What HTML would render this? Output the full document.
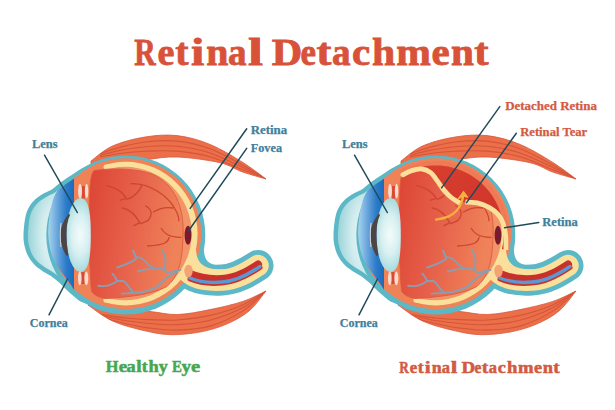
<!DOCTYPE html>
<html><head><meta charset="utf-8">
<style>
html,body{margin:0;padding:0;background:#fff;width:615px;height:410px;overflow:hidden}
svg{display:block}
text{font-family:"Liberation Serif",serif;font-weight:bold}
</style></head><body>
<svg width="615" height="410" viewBox="0 0 615 410">
<defs>
  <linearGradient id="vit" x1="0" y1="0" x2="1" y2="0.25">
    <stop offset="0" stop-color="#dc4434"/>
    <stop offset="0.5" stop-color="#e6604a"/>
    <stop offset="1" stop-color="#ef8259"/>
  </linearGradient>
  <radialGradient id="corn" gradientUnits="userSpaceOnUse" cx="54" cy="236" r="28" gradientTransform="translate(54 236) scale(1 2.5) translate(-54 -236)">
    <stop offset="0" stop-color="#eaf7f7"/>
    <stop offset="0.45" stop-color="#d2ecee"/>
    <stop offset="0.8" stop-color="#aadbdf"/>
    <stop offset="1" stop-color="#8fd0d6"/>
  </radialGradient>
  <linearGradient id="iris" gradientUnits="userSpaceOnUse" x1="48" y1="0" x2="74" y2="0">
    <stop offset="0" stop-color="#a9d5ec"/>
    <stop offset="0.35" stop-color="#6aa6dc"/>
    <stop offset="0.7" stop-color="#2c7bc8"/>
    <stop offset="1" stop-color="#1a6bbd"/>
  </linearGradient>
  <radialGradient id="lensg" gradientUnits="userSpaceOnUse" cx="80" cy="235" r="17" gradientTransform="translate(80 235) scale(1 2.3) translate(-80 -235)">
    <stop offset="0" stop-color="#f4fbfb"/>
    <stop offset="0.5" stop-color="#d8f0f1"/>
    <stop offset="1" stop-color="#a2d8dc"/>
  </radialGradient>
  <linearGradient id="drk" x1="0" y1="0" x2="1" y2="1">
    <stop offset="0" stop-color="#d8412f"/>
    <stop offset="1" stop-color="#cd3029"/>
  </linearGradient>
  <clipPath id="umc"><path d="M91.0 161.0 C94.6 158.5 103.5 150.0 112.5 146.0 C121.5 142.0 134.2 138.7 145.0 137.0 C155.8 135.3 166.2 134.4 177.0 135.6 C187.8 136.8 199.1 139.9 210.0 144.4 C220.9 148.9 233.3 156.5 242.6 162.3 C251.9 168.1 262.1 176.2 266.0 179.0 L266 179 C262.1 177.8 250.3 174.7 242.6 172.0 C234.9 169.3 230.9 165.2 220.0 162.7 C209.1 160.2 189.5 157.4 177.0 157.0 C164.5 156.6 155.8 158.5 145.0 160.0 C134.2 161.5 121.5 164.3 112.5 166.0 C103.5 167.7 94.6 169.3 91.0 170.0 Z"/></clipPath>
  <clipPath id="lmc"><path d="M88.0 305.0 C93.3 305.7 109.7 307.9 120.0 309.0 C130.3 310.1 140.4 310.6 150.0 311.5 C159.6 312.4 167.6 314.8 177.6 314.5 C187.6 314.2 199.2 311.8 210.0 309.6 C220.8 307.4 233.3 304.6 242.6 301.5 C251.9 298.4 262.1 292.8 266.0 291.0 L266 291 C263.2 294.3 255.7 305.4 249.0 311.0 C242.3 316.6 234.2 320.8 226.0 324.3 C217.8 327.8 209.2 330.3 200.0 332.0 C190.8 333.7 180.2 334.9 171.0 334.7 C161.8 334.5 154.8 333.1 145.0 330.8 C135.2 328.5 122.0 325.3 112.5 321.0 C103.0 316.7 92.1 307.7 88.0 305.0 Z"/></clipPath>
  <clipPath id="orc"><circle cx="125.7" cy="233.7" r="75.5"/></clipPath>

<g id="eye">
  <path d="M91.0 161.0 C94.6 158.5 103.5 150.0 112.5 146.0 C121.5 142.0 134.2 138.7 145.0 137.0 C155.8 135.3 166.2 134.4 177.0 135.6 C187.8 136.8 199.1 139.9 210.0 144.4 C220.9 148.9 233.3 156.5 242.6 162.3 C251.9 168.1 262.1 176.2 266.0 179.0 L266 179 C262.1 177.8 250.3 174.7 242.6 172.0 C234.9 169.3 230.9 165.2 220.0 162.7 C209.1 160.2 189.5 157.4 177.0 157.0 C164.5 156.6 155.8 158.5 145.0 160.0 C134.2 161.5 121.5 164.3 112.5 166.0 C103.5 167.7 94.6 169.3 91.0 170.0 Z" fill="#eb6f49" stroke="#da583c" stroke-width="0.8"/>
  <g fill="none" stroke="#d6553a" stroke-width="1.1" clip-path="url(#umc)"><path d="M100.0 153.8 C103.3 152.7 112.5 149.2 120.0 147.2 C127.5 145.3 135.5 143.1 145.0 142.0 C154.5 141.0 166.2 140.0 177.0 141.1 C187.8 142.2 199.1 144.8 210.0 148.8 C220.9 152.8 233.3 159.9 242.6 164.9 C251.9 170.0 262.1 176.7 266.0 179.0"/><path d="M100.0 155.4 C103.3 154.6 112.5 151.8 120.0 150.4 C127.5 149.0 135.5 147.4 145.0 146.7 C154.5 146.0 166.2 145.2 177.0 146.2 C187.8 147.2 199.1 149.4 210.0 152.9 C220.9 156.4 233.3 163.0 242.6 167.3 C251.9 171.7 262.1 177.1 266.0 179.0"/><path d="M100.0 156.9 C103.3 156.4 112.5 154.4 120.0 153.5 C127.5 152.5 135.5 151.6 145.0 151.2 C154.5 150.8 166.2 150.2 177.0 151.1 C187.8 152.0 199.1 153.7 210.0 156.8 C220.9 159.9 233.3 166.0 242.6 169.7 C251.9 173.4 262.1 177.4 266.0 179.0"/></g>
  <path d="M88.0 305.0 C93.3 305.7 109.7 307.9 120.0 309.0 C130.3 310.1 140.4 310.6 150.0 311.5 C159.6 312.4 167.6 314.8 177.6 314.5 C187.6 314.2 199.2 311.8 210.0 309.6 C220.8 307.4 233.3 304.6 242.6 301.5 C251.9 298.4 262.1 292.8 266.0 291.0 L266 291 C263.2 294.3 255.7 305.4 249.0 311.0 C242.3 316.6 234.2 320.8 226.0 324.3 C217.8 327.8 209.2 330.3 200.0 332.0 C190.8 333.7 180.2 334.9 171.0 334.7 C161.8 334.5 154.8 333.1 145.0 330.8 C135.2 328.5 122.0 325.3 112.5 321.0 C103.0 316.7 92.1 307.7 88.0 305.0 Z" fill="#eb6f49" stroke="#da583c" stroke-width="0.8"/>
  <g fill="none" stroke="#d6553a" stroke-width="1.1" clip-path="url(#lmc)"><path d="M100.0 314.3 C104.2 315.0 116.7 317.1 125.0 318.0 C133.3 318.8 141.2 319.3 150.0 319.6 C158.8 319.9 167.6 320.7 177.6 320.0 C187.6 319.3 199.2 317.9 210.0 315.4 C220.8 312.9 233.3 308.9 242.6 304.9 C251.9 300.8 262.1 293.3 266.0 291.0"/><path d="M100.0 315.5 C104.2 316.3 116.7 319.2 125.0 320.5 C133.3 321.8 141.2 322.8 150.0 323.5 C158.8 324.2 167.6 325.1 177.6 324.6 C187.6 324.1 199.2 323.1 210.0 320.3 C220.8 317.5 233.3 312.6 242.6 307.8 C251.9 302.9 262.1 293.8 266.0 291.0"/><path d="M100.0 316.9 C104.2 318.0 116.7 321.6 125.0 323.5 C133.3 325.3 141.2 327.0 150.0 328.1 C158.8 329.2 167.6 330.4 177.6 330.1 C187.6 329.7 199.2 329.2 210.0 326.1 C220.8 322.9 233.3 317.0 242.6 311.1 C251.9 305.3 262.1 294.4 266.0 291.0"/></g>
  <!-- cornea -->
  <path d="M104.0 159.0 C100.8 160.3 90.5 164.0 85.0 166.7 C79.5 169.4 75.3 172.6 71.3 175.2 C67.3 177.8 64.2 179.7 61.1 182.0 C58.0 184.3 55.5 187.0 52.6 188.9 C49.8 190.8 46.9 191.5 44.0 193.2 C41.1 194.9 38.0 196.7 35.5 199.1 C33.0 201.5 30.4 204.5 28.7 207.7 C27.0 210.8 26.1 213.4 25.2 218.0 C24.3 222.6 23.6 230.5 23.5 235.0 C23.4 239.5 23.7 241.8 24.4 245.2 C25.1 248.6 26.2 252.4 27.8 255.5 C29.4 258.6 31.4 261.4 33.8 264.0 C36.2 266.6 39.4 268.9 42.3 270.9 C45.1 272.9 48.0 274.0 50.9 276.0 C53.8 278.0 56.5 280.2 59.4 282.8 C62.2 285.4 64.9 288.5 68.0 291.3 C71.1 294.1 75.4 297.9 78.2 299.9 C81.0 301.9 80.7 301.4 85.0 303.3 C89.3 305.2 100.8 309.7 104.0 311.0 L110 311 L110 159 Z" fill="#5cb8c6"/>
  <path d="M87.3 170.4 C85.0 171.8 77.6 176.4 73.7 178.9 C69.7 181.4 66.8 183.3 63.7 185.5 C60.6 187.8 57.9 190.7 55.0 192.6 C52.1 194.5 49.0 195.4 46.3 197.0 C43.5 198.6 40.8 200.2 38.5 202.3 C36.2 204.4 34.1 207.1 32.6 209.8 C31.1 212.6 30.3 214.6 29.5 218.8 C28.7 223.0 28.0 230.9 27.9 235.1 C27.8 239.4 28.1 241.2 28.7 244.3 C29.3 247.4 30.4 250.8 31.7 253.5 C33.1 256.3 34.8 258.7 37.0 261.0 C39.2 263.3 42.1 265.4 44.8 267.3 C47.6 269.2 50.5 270.4 53.4 272.4 C56.3 274.4 59.4 276.9 62.3 279.5 C65.3 282.1 67.9 285.2 71.0 288.0 C74.0 290.8 78.1 294.4 80.7 296.3 C83.4 298.2 85.9 298.9 87.0 299.4 L100 299.4 L100 170.4 Z" fill="url(#corn)"/>
  <!-- teal -->
  <path d="M177 254 C186 279 202 281 222 280 C236 279.5 248 272 258 265.5" fill="none" stroke="#5cb8c6" stroke-width="31" stroke-linecap="round"/>
  <circle cx="125.8" cy="235" r="79.5" fill="#5cb8c6"/>
  <path d="M195 250 L203.9 250 C204.5 260 208 265.5 222 265.5 L222 276 L195 276 Z" fill="#5cb8c6"/>
  <circle cx="125.7" cy="233.7" r="75.5" fill="#f08258"/>
  <path d="M177 254 C186 279 202 281 222 280 C236 279.5 248 272 258 265.5" fill="none" stroke="#fbe09c" stroke-width="21.5" stroke-linecap="round"/>
  <circle cx="125.8" cy="233.65" r="71.8" fill="#fbe09c"/>
  <path d="M190 250 L196 250 C197 263 203 269.5 222 269.5 L222 278 L190 278 Z" fill="#fbe09c"/>
  <circle cx="125" cy="233.55" r="66.7" fill="#f29468"/>
  <!-- ciliary overlay -->
  <path d="M40 150 L106 150 L106 320 L40 320 Z" fill="#f08258" clip-path="url(#orc)"/>
  <circle cx="106" cy="167.1" r="2.5" fill="#fbe09c"/>
  <circle cx="106" cy="300.1" r="2.6" fill="#fbe09c"/>
  <!-- interior -->
  <path d="M94 170.5 C110 168 135 168 152 174 C175 184 184.5 208 183 236 C182.5 262 178 278 166 287 C150 295 125 297.5 105 298.5 C98 297 94 295 91.5 291 C89 265 88.5 215 89.5 195 C90 182 91 174 94 170.5 Z" fill="url(#vit)" stroke="#dc5a40" stroke-width="0.9"/>
  <g fill="none" stroke="#cc4632" stroke-width="1.3" stroke-linecap="round">
    <path d="M106.7 185.6 C115 187 123 192 126.2 198.3 L120.4 200.2"/>
    <path d="M131 183.7 C150 183 168 196 175 209 C178 214 179 218 178.9 220.7"/>
    <path d="M141.8 185.6 C140 190 135 197 127.2 199.3"/>
    <path d="M122.3 208 C130 209 136 216 139.9 222.7 L134 225.6"/>
    <path d="M145.7 206 C152 209 153 215 147.7 220.7 L140.9 223.7"/>
    <path d="M153.5 212 C160 208 167 207 173 208"/>
    <path d="M161.3 228.5 C164 233 168 237 180.9 237.3"/>
    <path d="M169.1 237.3 C168 242 166 245 147.7 246"/>
  </g>
  <g fill="none" stroke="#8b9db0" stroke-width="1.9" stroke-linecap="round">
    <path d="M98.2 285.7 C105 287 112 285 117.2 281 L123.5 281 C127 283 129 288 133 292"/>
    <path d="M112.4 273.8 C115 276 116 279 117.2 281"/>
    <path d="M117.2 267.5 C122 266 131 263 136.2 258.8 C135 255 134 252 133 250.8"/>
    <path d="M136.2 257.2 C142 256 146 262 148.9 265.1 L153.6 268.3"/>
    <path d="M137.8 271.5 C145 269 152 268 161.6 269 C165 270 167 272 167.9 273 C172 272 176 270 180.6 269.9"/>
    <path d="M161.6 250 C165 254 166.5 258 164.7 269.9"/>
    <path d="M121.9 293.6 C130 293 137 292.5 142.5 292 C150 290 156 288 158.4 285.7 C163 281 166 278 169.5 276.2 C173 274 175 272 177.4 271.5"/>
  </g>
  <!-- nerve core -->
  <path d="M190 274 C202 279.5 212 279.5 222 279 C236 278.5 248 271 258 264.5" fill="none" stroke="#c8302b" stroke-width="8" stroke-linecap="round"/>
  <path d="M190 278 C202 283 212 283 222 282 C236 281.5 249 274 260 266.5" fill="none" stroke="#c8302b" stroke-width="5" stroke-linecap="round" transform="translate(0 1)"/>
  <path d="M190 278 C202 283 212 283 222 282 C236 281.5 249 274 260 266.5" fill="none" stroke="#5b97d3" stroke-width="3.4" stroke-linecap="round"/>
  <ellipse cx="188.5" cy="271" rx="4.2" ry="6.2" fill="#f5a274"/>
  <ellipse cx="188" cy="235.3" rx="3.4" ry="9.5" fill="#7a1b2c"/>
  <!-- iris -->
  <path d="M74.0 178.7 C73.5 179.0 74.0 178.4 71.3 180.4 C68.6 182.4 61.0 186.6 57.7 190.6 C54.4 194.6 53.1 199.5 51.7 204.3 C50.3 209.1 49.7 214.5 49.1 219.6 C48.5 224.7 48.0 229.6 48.3 235.0 C48.6 240.4 49.6 247.2 50.9 252.0 C52.2 256.8 53.7 260.0 56.0 264.0 C58.3 268.0 61.7 272.0 64.5 276.0 C67.3 280.0 71.4 285.4 73.0 288.0 C74.6 290.6 73.8 290.8 74.0 291.3 Z" fill="url(#iris)"/>
  <path d="M80.5 198 A14.1 37 0 0 0 80.5 272 C88.5 272 90.8 258 90.8 235 C90.8 212 88.5 198 80.5 198 Z" fill="url(#lensg)"/>
  <path d="M69 213.5 C63.5 220 60.5 228 60.5 235 C60.5 243 62.5 250 66.5 256 L68.5 255 C67.5 250 66.5 242 66.5 234 C66.5 226 67.5 220 70 215 Z" fill="#4d4444"/>
  <path d="M61 223 C60 230 60 240 61 247" fill="none" stroke="#d8dada" stroke-width="1"/>
  <rect x="82" y="186" width="2.9" height="12.4" fill="#d64a38"/>
  <rect x="81.5" y="272" width="2.9" height="12" fill="#d64a38"/>
  <g fill="#f8dccf">
    <ellipse cx="80" cy="191.1" rx="1.9" ry="7.3"/>
    <ellipse cx="86.6" cy="191.1" rx="1.7" ry="7.3"/>
    <ellipse cx="79.75" cy="278.4" rx="1.75" ry="6.8"/>
    <ellipse cx="86.35" cy="278.4" rx="1.9" ry="6.8"/>
  </g>
</g>

<g id="det">
  <path d="M92.9 174.8 C94.4 174.1 98.5 171.6 101.7 170.6 C104.9 169.6 108.8 168.7 112.0 169.0 C115.2 169.3 118.3 170.8 120.7 172.6 C123.1 174.4 124.4 177.0 126.6 179.9 C128.8 182.8 131.5 187.2 133.9 190.1 C136.3 193.0 138.6 195.4 141.2 197.5 C143.8 199.6 146.9 201.8 149.3 202.6 C151.7 203.3 152.1 201.9 155.4 202.0 C158.7 202.1 165.1 202.4 169.1 203.3 C173.1 204.2 176.2 205.8 179.4 207.6 C182.6 209.4 185.7 211.8 188.0 214.4 C190.3 217.0 191.7 219.6 193.0 223.0 C194.3 226.4 195.1 230.4 195.6 234.9 C196.1 239.4 195.8 247.5 195.9 250.0 L196.9 250.2 L197.7 246.1 L198.3 241.9 L198.7 237.7 L198.8 233.5 L198.7 229.3 L198.3 225.1 L197.7 220.9 L196.8 216.8 L195.7 212.7 L194.4 208.7 L192.9 204.8 L191.1 201.0 L189.1 197.3 L186.9 193.7 L184.5 190.2 L181.9 186.9 L179.1 183.8 L176.1 180.8 L173.0 177.9 L169.7 175.3 L166.3 172.9 L162.7 170.7 L159.0 168.6 L155.2 166.8 L151.3 165.2 L147.3 163.9 L143.2 162.8 L139.1 161.9 L134.9 161.2 L130.7 160.8 L126.5 160.7 L122.3 160.7 L118.1 161.1 L113.9 161.6 L109.8 162.4 L105.7 163.5 L101.7 164.7 L97.8 166.3 L93.9 168.0 L90.2 169.9 Z" fill="#ee7b55"/>
  <path d="M92.9 174.8 C94.4 174.1 98.5 171.6 101.7 170.6 C104.9 169.6 108.8 168.7 112.0 169.0 C115.2 169.3 118.3 170.8 120.7 172.6 C123.1 174.4 124.4 177.0 126.6 179.9 C128.8 182.8 131.5 187.2 133.9 190.1 C136.3 193.0 138.6 195.4 141.2 197.5 C143.8 199.6 146.9 201.8 149.3 202.6 C151.7 203.3 152.1 201.9 155.4 202.0 C158.7 202.1 165.1 202.4 169.1 203.3 C173.1 204.2 176.2 205.8 179.4 207.6 C182.6 209.4 185.7 211.8 188.0 214.4 C190.3 217.0 191.7 219.6 193.0 223.0 C194.3 226.4 195.1 230.4 195.6 234.9 C196.1 239.4 195.8 247.5 195.9 250.0 L191.9 249.1 L192.7 245.2 L193.3 241.3 L193.6 237.4 L193.7 233.5 L193.6 229.6 L193.2 225.6 L192.7 221.7 L191.9 217.9 L190.9 214.1 L189.6 210.4 L188.2 206.7 L186.5 203.1 L184.7 199.7 L182.6 196.3 L180.4 193.1 L177.9 190.0 L175.3 187.1 L172.6 184.3 L169.7 181.6 L166.6 179.2 L163.4 176.9 L160.1 174.8 L156.6 172.9 L153.1 171.2 L149.4 169.7 L145.7 168.5 L141.9 167.4 L138.1 166.6 L134.2 166.0 L130.3 165.6 L126.4 165.4 L122.4 165.5 L118.5 165.8 L114.6 166.3 L110.8 167.0 L106.9 168.0 L103.2 169.2 L99.5 170.5 L95.9 172.1 L92.4 174.0 Z" fill="url(#drk)"/>
  <path d="M92.9 174.8 C94.4 174.1 98.5 171.6 101.7 170.6 C104.9 169.6 108.8 168.7 112.0 169.0 C115.2 169.3 118.3 170.8 120.7 172.6 C123.1 174.4 124.4 177.0 126.6 179.9 C128.8 182.8 131.5 187.2 133.9 190.1 C136.3 193.0 138.6 195.4 141.2 197.5 C143.8 199.6 148.0 201.8 149.3 202.6" fill="none" stroke="#fbe09c" stroke-width="4.8" stroke-linecap="round"/>
  <path d="M155.4 202.0 C157.7 202.2 165.1 202.4 169.1 203.3 C173.1 204.2 176.2 205.8 179.4 207.6 C182.6 209.4 185.7 211.8 188.0 214.4 C190.3 217.0 191.7 219.6 193.0 223.0 C194.3 226.4 195.1 230.4 195.6 234.9 C196.1 239.4 195.8 247.5 195.9 250.0" fill="none" stroke="#fbe09c" stroke-width="4.8"/>
  <path d="M126.1 219.6 C128.1 219.1 134.9 218.1 138.3 216.6 C141.8 215.1 144.6 212.9 146.8 210.5 C149.0 208.1 150.6 204.6 151.7 202.0 C152.8 199.4 153.0 196.2 153.3 195.0" fill="none" stroke="#f6b13d" stroke-width="2.3" stroke-linecap="round"/>
  <path d="M153.5 191.5 L148.3 198.8 L153.3 196.2 L157.6 197.2 Z" fill="#f6b13d" stroke="#f6b13d" stroke-width="1.2" stroke-linejoin="round"/>
</g>
</defs>
<use href="#eye"/>
<use href="#eye" x="310"/>
<use href="#det" x="310"/>

<g font-size="12" fill="#41809b" stroke="#41809b" stroke-width="0.25">
<text x="31.9" y="147.5" textLength="25.6" lengthAdjust="spacingAndGlyphs">Lens</text>
<text x="29.7" y="327" textLength="38.1" lengthAdjust="spacingAndGlyphs">Cornea</text>
<text x="250.8" y="133.8" textLength="36.4" lengthAdjust="spacingAndGlyphs">Retina</text>
<text x="250.8" y="151.9" textLength="31.2" lengthAdjust="spacingAndGlyphs">Fovea</text>
<text x="341.9" y="147.5" textLength="25.6" lengthAdjust="spacingAndGlyphs">Lens</text>
<text x="339.7" y="327" textLength="38.1" lengthAdjust="spacingAndGlyphs">Cornea</text>
<text x="542.3" y="226.3" textLength="35.5" lengthAdjust="spacingAndGlyphs">Retina</text>
</g>
<g font-size="12" fill="#d45a42" stroke="#d45a42" stroke-width="0.25">
<text x="505.2" y="110.1" textLength="91.7" lengthAdjust="spacingAndGlyphs">Detached Retina</text>
<text x="520.2" y="136.2" textLength="67" lengthAdjust="spacingAndGlyphs">Retinal Tear</text>
</g>
<g font-size="16.2" fill="#45a752" stroke="#45a752" stroke-width="0.5"><text transform="translate(105.69 372.4) scale(1.012 1.000)">H</text><text transform="translate(118.69 372.4) scale(1.173 1.040)">e</text><text transform="translate(126.56 372.4) scale(1.130 1.040)">a</text><text transform="translate(136.19 372.4) scale(1.196 1.040)">l</text><text transform="translate(141.77 372.4) scale(1.088 1.040)">t</text><text transform="translate(148.41 372.4) scale(1.134 1.040)">h</text><text transform="translate(158.66 372.4) scale(1.106 1.040)">y</text><text transform="translate(172.01 372.4) scale(0.916 1.000)">E</text><text transform="translate(181.45 372.4) scale(1.183 1.040)">y</text><text transform="translate(190.94 372.4) scale(1.270 1.040)">e</text></g>
<g font-size="16" fill="#d35a42" stroke="#d35a42" stroke-width="0.5"><text transform="translate(399.14 372.7) scale(0.829 1.000)">R</text><text transform="translate(409.69 372.7) scale(1.055 1.040)">e</text><text transform="translate(417.66 372.7) scale(1.099 1.040)">t</text><text transform="translate(424.79 372.7) scale(1.319 1.040)">i</text><text transform="translate(431.75 372.7) scale(1.112 1.040)">n</text><text transform="translate(441.67 372.7) scale(1.031 1.040)">a</text><text transform="translate(450.73 372.7) scale(1.495 1.040)">l</text><text transform="translate(461.44 372.7) scale(1.184 1.000)">D</text><text transform="translate(474.45 372.7) scale(0.967 1.040)">e</text><text transform="translate(481.74 372.7) scale(1.235 1.040)">t</text><text transform="translate(488.83 372.7) scale(1.031 1.040)">a</text><text transform="translate(497.84 372.7) scale(1.136 1.040)">c</text><text transform="translate(506.96 372.7) scale(1.167 1.040)">h</text><text transform="translate(517.93 372.7) scale(1.167 1.040)">m</text><text transform="translate(533.94 372.7) scale(1.136 1.040)">e</text><text transform="translate(542.74 372.7) scale(1.151 1.040)">n</text><text transform="translate(553.31 372.7) scale(1.190 1.040)">t</text></g>
<g font-size="37.5" fill="#d8523a" stroke="#d8523a" stroke-width="0.8"><text transform="translate(134.33 64.9) scale(0.791 1.000)">R</text><text transform="translate(157.58 64.9) scale(1.014 1.030)">e</text><text transform="translate(175.16 64.9) scale(1.060 1.030)">t</text><text transform="translate(190.88 64.9) scale(1.275 1.030)">i</text><text transform="translate(206.24 64.9) scale(1.062 1.030)">n</text><text transform="translate(228.11 64.9) scale(0.988 1.030)">a</text><text transform="translate(248.09 64.9) scale(1.440 1.030)">l</text><text transform="translate(271.71 64.9) scale(1.127 1.000)">D</text><text transform="translate(300.39 64.9) scale(0.931 1.030)">e</text><text transform="translate(316.49 64.9) scale(1.188 1.030)">t</text><text transform="translate(332.11 64.9) scale(0.988 1.030)">a</text><text transform="translate(351.98 64.9) scale(1.090 1.030)">c</text><text transform="translate(372.10 64.9) scale(1.113 1.030)">h</text><text transform="translate(396.29 64.9) scale(1.108 1.030)">m</text><text transform="translate(431.58 64.9) scale(1.090 1.030)">e</text><text transform="translate(451.00 64.9) scale(1.098 1.030)">n</text><text transform="translate(474.31 64.9) scale(1.145 1.030)">t</text></g>
<g stroke="#1f4b5c" stroke-width="1.5" stroke-linecap="round">
<line x1="44.5" y1="155.2" x2="77.3" y2="212.5"/>
<line x1="49" y1="314.8" x2="67.5" y2="279"/>
<line x1="354.5" y1="155.2" x2="387.3" y2="212.5"/>
<line x1="359" y1="314.8" x2="377.5" y2="279"/>
<line x1="246.7" y1="128.8" x2="190.2" y2="208.4"/>
<line x1="246.7" y1="148.4" x2="188.2" y2="231.2"/>
<line x1="499.8" y1="106.6" x2="441.6" y2="187.9"/>
<line x1="516.3" y1="133.3" x2="466.6" y2="202.6"/>
<line x1="538.8" y1="222.4" x2="504.6" y2="227.7"/>
</g>

</svg>
</body></html>
